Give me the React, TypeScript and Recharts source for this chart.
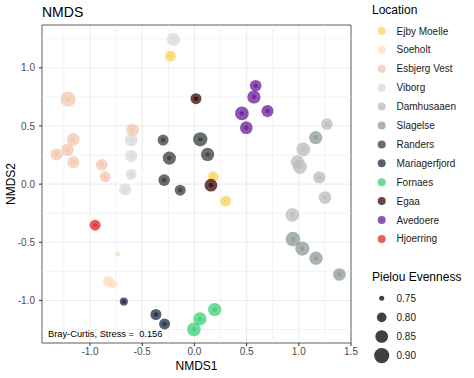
import React from 'react';
import { ScatterChart, Scatter, XAxis, YAxis, ZAxis, CartesianGrid, ReferenceLine, ReferenceArea } from 'recharts';

// ---- data: [NMDS1, NMDS2, Pielou evenness] ----
const EJBY_MOELLE = [[-0.23, 1.10, 0.82], [0.18, 0.063, 0.82], [0.30, -0.146, 0.82]];
const SOEHOLT = [[-0.736, -0.602, 0.75], [-0.823, -0.837, 0.82], [-0.778, -0.861, 0.78]];
const ESBJERG_VEST = [[-1.21, 0.73, 0.9], [-1.16, 0.385, 0.85], [-1.216, 0.295, 0.85], [-1.32, 0.255, 0.84], [-1.16, 0.187, 0.84], [-0.887, 0.166, 0.83], [-0.855, 0.063, 0.82], [-0.593, 0.465, 0.85]];
const VIBORG = [[-0.2, 1.245, 0.86], [-0.606, 0.379, 0.85], [-0.606, 0.241, 0.84], [-0.606, 0.083, 0.82], [-0.663, -0.046, 0.84]];
const DAMHUSAAEN = [[1.27, 0.516, 0.83], [1.043, 0.298, 0.87], [0.986, 0.192, 0.86], [1.011, 0.149, 0.88], [1.197, 0.058, 0.84], [1.251, -0.115, 0.85], [0.938, -0.264, 0.87]];
const SLAGELSE = [[1.162, 0.4, 0.86], [0.944, -0.473, 0.89], [1.034, -0.554, 0.88], [1.165, -0.637, 0.86], [1.389, -0.777, 0.85]];
const RANDERS = [[-0.3, 0.379, 0.82], [0.056, 0.385, 0.88], [0.126, 0.255, 0.86], [-0.24, 0.224, 0.86], [-0.29, 0.034, 0.83], [-0.136, -0.052, 0.82]];
const MARIAGERFJORD = [[-0.676, -1.01, 0.78], [-0.369, -1.121, 0.82], [-0.286, -1.202, 0.82]];
const FORNAES = [[0.194, -1.078, 0.86], [0.053, -1.159, 0.86], [-0.005, -1.248, 0.87]];
const EGAA = [[0.015, 0.734, 0.82], [0.158, -0.009, 0.85]];
const AVEDOERE = [[0.587, 0.846, 0.83], [0.57, 0.749, 0.86], [0.455, 0.608, 0.87], [0.7, 0.628, 0.84], [0.497, 0.485, 0.85]];
const HJOERRING = [[-0.951, -0.353, 0.82]];

const LOCATIONS = ['Ejby Moelle', 'Soeholt', 'Esbjerg Vest', 'Viborg', 'Damhusaaen', 'Slagelse', 'Randers', 'Mariagerfjord', 'Fornaes', 'Egaa', 'Avedoere', 'Hjoerring'];
const COLORS = ['#F6D55E', '#FDE0BC', '#F0C5AE', '#DADADA', '#B8BCBC', '#8E9A9A', '#353D3B', '#1E2B3D', '#3ECF7A', '#3A0505', '#6A1B9A', '#E02828'];
const SERIES_DATA = [EJBY_MOELLE, SOEHOLT, ESBJERG_VEST, VIBORG, DAMHUSAAEN, SLAGELSE, RANDERS, MARIAGERFJORD, FORNAES, EGAA, AVEDOERE, HJOERRING];

const X_TICKS = [-1.0, -0.5, 0.0, 0.5, 1.0, 1.5];
const Y_TICKS = [-1.0, -0.5, 0.0, 0.5, 1.0];
const X_MINOR = [-1.25, -0.75, -0.25, 0.25, 0.75, 1.25];
const Y_MINOR = [-1.25, -0.75, -0.25, 0.25, 0.75, 1.25];
const SIZE_BREAKS = [0.75, 0.8, 0.85, 0.9];
const X_DOMAIN = [-1.46, 1.5];
const Y_DOMAIN = [-1.366, 1.368];
const Z_DOMAIN = [0.75, 0.9];
const Z_RANGE = [20, 180];

const OPACITY = 0.75;
const FONT = '"Liberation Sans", Arial, Helvetica, sans-serif';

const areaFor = (e: number) => Z_RANGE[0] + ((e - Z_DOMAIN[0]) / (Z_DOMAIN[1] - Z_DOMAIN[0])) * (Z_RANGE[1] - Z_RANGE[0]);

const Dot = (props: any) => {
  const { cx, cy, fill, payload } = props;
  if (cx == null || cy == null) return null;
  const area = typeof props.size === 'number' && props.size > 0 ? props.size : areaFor(payload.e);
  const r = Math.sqrt(area / Math.PI);
  return (
    <g>
      <circle cx={cx} cy={cy} r={r} fill={fill} fillOpacity={OPACITY} />
      <circle cx={cx} cy={cy} r={Math.min(2.2, r * 0.6)} fill={fill} fillOpacity={OPACITY} />
    </g>
  );
};

const fmt = (v: number) => v.toFixed(1);

export default function App() {
  const series = LOCATIONS.map((name, i) => ({
    name,
    color: COLORS[i],
    data: SERIES_DATA[i].map(([x, y, e]) => ({ x, y, e })),
  }));
  return (
    <div style={{ position: 'absolute', left: 0, top: 0, width: 474, height: 378, background: '#fff', fontFamily: FONT }}>
      <ScatterChart width={474} height={378} margin={{ top: 25, right: 123, bottom: 0, left: 0 }}>
        <CartesianGrid stroke="#EBEBEB" strokeWidth={1} />
        {X_MINOR.map((v) => (
          <ReferenceLine key={'xm' + v} x={v} stroke="#EBEBEB" strokeWidth={0.6} />
        ))}
        {Y_MINOR.map((v) => (
          <ReferenceLine key={'ym' + v} y={v} stroke="#EBEBEB" strokeWidth={0.6} />
        ))}
        <XAxis
          type="number"
          dataKey="x"
          domain={X_DOMAIN}
          ticks={X_TICKS}
          tickFormatter={fmt}
          allowDataOverflow
          height={35}
          tickSize={3}
          tickMargin={2}
          axisLine={false}
          tickLine={{ stroke: '#333' }}
          tick={{ fill: '#4D4D4D', fontSize: 10, fontFamily: FONT }}
        />
        <YAxis
          type="number"
          dataKey="y"
          domain={Y_DOMAIN}
          ticks={Y_TICKS}
          tickFormatter={fmt}
          allowDataOverflow
          width={42}
          tickSize={3}
          tickMargin={4}
          axisLine={false}
          tickLine={{ stroke: '#333' }}
          tick={{ fill: '#4D4D4D', fontSize: 10, fontFamily: FONT }}
        />
        <ZAxis type="number" dataKey="e" domain={Z_DOMAIN} range={Z_RANGE} />
        {series.map((s) => (
          <Scatter key={s.name} name={s.name} data={s.data} fill={s.color} shape={Dot} isAnimationActive={false} />
        ))}
        <ReferenceArea x1={X_DOMAIN[0]} x2={X_DOMAIN[1]} y1={Y_DOMAIN[0]} y2={Y_DOMAIN[1]} fill="none" stroke="#666" strokeWidth={1} ifOverflow="visible" />
      </ScatterChart>
      <svg width={474} height={378} style={{ position: 'absolute', left: 0, top: 0, pointerEvents: 'none' }} fontFamily={FONT}>
        <text x={42} y={17} fontSize={14} fill="#000">NMDS</text>
        <text x={196.5} y={370} fontSize={12} textAnchor="middle" fill="#000">NMDS1</text>
        <text transform="translate(15,184) rotate(-90)" fontSize={12} textAnchor="middle" fill="#000">NMDS2</text>
        <text x={48} y={337} fontSize={9.3} fill="#000">{'Bray-Curtis, Stress =\u00A0\u00A00.156'}</text>
        <text x={372} y={14} fontSize={12} fill="#000">Location</text>
        {LOCATIONS.map((name, i) => (
          <g key={name}>
            <circle cx={381.7} cy={31 + i * 18.9} r={4} fill={COLORS[i]} fillOpacity={OPACITY} />
            <text x={396.5} y={31 + i * 18.9 + 3.5} fontSize={10} fill="#1A1A1A">{name}</text>
          </g>
        ))}
        <text x={372} y={281} fontSize={12} fill="#000">Pielou Evenness</text>
        {SIZE_BREAKS.map((b, i) => (
          <g key={b}>
            <circle cx={381.7} cy={298.3 + i * 19.1} r={Math.sqrt(areaFor(b) / Math.PI)} fill="#000" fillOpacity={0.75} />
            <text x={396.5} y={298.3 + i * 19.1 + 3.5} fontSize={10} fill="#1A1A1A">{b.toFixed(2)}</text>
          </g>
        ))}
      </svg>
    </div>
  );
}
